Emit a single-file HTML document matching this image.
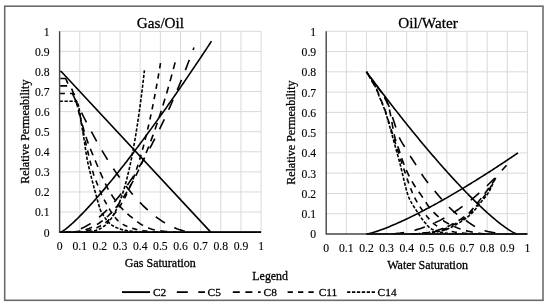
<!DOCTYPE html>
<html><head><meta charset="utf-8"><title>Relative Permeability</title>
<style>html,body{margin:0;padding:0;background:#fff;}svg{display:block;}</style></head>
<body><svg width="550" height="308" viewBox="0 0 550 308">
<rect width="550" height="308" fill="#fff"/>
<rect x="4.7" y="6.2" width="538.3" height="294.1" fill="none" stroke="#6c6c6c" stroke-width="1.6"/>
<path d="M79.75 31.30V232.10 M59.60 212.02H261.10 M99.90 31.30V232.10 M59.60 191.94H261.10 M120.05 31.30V232.10 M59.60 171.86H261.10 M140.20 31.30V232.10 M59.60 151.78H261.10 M160.35 31.30V232.10 M59.60 131.70H261.10 M180.50 31.30V232.10 M59.60 111.62H261.10 M200.65 31.30V232.10 M59.60 91.54H261.10 M220.80 31.30V232.10 M59.60 71.46H261.10 M240.95 31.30V232.10 M59.60 51.38H261.10 M261.10 31.30V232.10 M59.60 31.30H261.10" stroke="#d9d9d9" stroke-width="1" fill="none"/>
<g fill="none" stroke="#000" stroke-width="1.60" stroke-linejoin="round">
<polyline points="59.60,71.46 61.21,71.46 210.73,232.10"/>
<polyline points="59.60,78.49 65.64,78.49 66.72,80.93 67.80,83.36 68.88,85.76 69.96,88.15 71.04,90.52 72.12,92.87 73.20,95.20 74.27,97.51 75.35,99.81 76.43,102.08 77.51,104.34 78.59,106.58 79.67,108.80 80.75,111.00 81.82,113.18 82.90,115.34 83.98,117.49 85.06,119.61 86.14,121.72 87.22,123.81 88.30,125.88 89.37,127.93 90.45,129.96 91.53,131.97 92.61,133.96 93.69,135.94 94.77,137.89 95.85,139.83 96.92,141.75 98.00,143.64 99.08,145.52 100.16,147.38 101.24,149.22 102.32,151.04 103.40,152.85 104.48,154.63 105.55,156.39 106.63,158.14 107.71,159.86 108.79,161.57 109.87,163.26 110.95,164.92 112.03,166.57 113.10,168.20 114.18,169.81 115.26,171.40 116.34,172.97 117.42,174.52 118.50,176.05 119.58,177.56 120.65,179.05 121.73,180.53 122.81,181.98 123.89,183.41 124.97,184.83 126.05,186.22 127.13,187.59 128.20,188.95 129.28,190.28 130.36,191.60 131.44,192.89 132.52,194.16 133.60,195.42 134.68,196.65 135.76,197.87 136.83,199.06 137.91,200.24 138.99,201.39 140.07,202.52 141.15,203.64 142.23,204.73 143.31,205.81 144.38,206.86 145.46,207.89 146.54,208.90 147.62,209.89 148.70,210.86 149.78,211.81 150.86,212.74 151.93,213.65 153.01,214.54 154.09,215.41 155.17,216.26 156.25,217.08 157.33,217.89 158.41,218.67 159.48,219.43 160.56,220.17 161.64,220.89 162.72,221.59 163.80,222.27 164.88,222.93 165.96,223.56 167.04,224.18 168.11,224.77 169.19,225.34 170.27,225.88 171.35,226.41 172.43,226.91 173.51,227.40 174.59,227.85 175.66,228.29 176.74,228.71 177.82,229.10 178.90,229.47 179.98,229.81 181.06,230.14 182.14,230.43 183.21,230.71 184.29,230.96 185.37,231.19 186.45,231.39 187.53,231.57 188.61,231.73 189.69,231.86 190.76,231.96 191.84,232.03 192.92,232.08 194.00,232.10" stroke-dasharray="11,10.5" stroke-dashoffset="20.89"/>
<polyline points="59.60,85.92 60.33,85.92 61.07,85.92 61.80,85.92 62.54,85.92 63.27,85.92 64.00,85.92 64.74,85.92 65.47,85.92 66.20,85.92 66.94,85.92 67.67,85.92 68.41,85.92 69.14,86.03 69.87,86.58 70.61,87.43 71.34,88.40 72.07,89.72 72.81,91.51 73.54,93.61 74.28,95.84 75.01,98.04 75.74,100.30 76.48,102.70 77.21,105.23 77.94,107.87 78.68,110.58 79.41,113.36 80.15,116.17 80.88,118.99 81.61,121.80 82.35,124.57 83.08,127.28 83.81,129.91 84.55,132.43 85.28,134.82 86.02,137.06 86.75,139.18 87.48,141.24 88.22,143.24 88.95,145.19 89.68,147.09 90.42,148.95 91.15,150.77 91.89,152.56 92.62,154.33 93.35,156.08 94.09,157.82 94.82,159.55 95.55,161.27 96.29,163.00 97.02,164.74 97.76,166.49 98.49,168.23 99.22,169.96 99.96,171.66 100.69,173.34 101.42,174.99 102.16,176.61 102.89,178.24 103.63,179.88 104.36,181.50 105.09,183.11 105.83,184.67 106.56,186.18 107.29,187.63 108.03,188.99 108.76,190.27 109.50,191.49 110.23,192.69 110.96,193.87 111.70,195.02 112.43,196.14 113.16,197.25 113.90,198.32 114.63,199.37 115.37,200.40 116.10,201.40 116.83,202.38 117.57,203.33 118.30,204.26 119.03,205.17 119.77,206.05 120.50,206.91 121.24,207.75 121.97,208.56 122.70,209.35 123.44,210.11 124.17,210.84 124.91,211.55 125.64,212.24 126.37,212.91 127.11,213.56 127.84,214.19 128.57,214.81 129.31,215.42 130.04,216.01 130.78,216.60 131.51,217.19 132.24,217.77 132.98,218.34 133.71,218.93 134.44,219.51 135.18,220.09 135.91,220.66 136.65,221.23 137.38,221.78 138.11,222.32 138.85,222.85 139.58,223.35 140.31,223.83 141.05,224.29 141.78,224.72 142.52,225.12 143.25,225.49 143.98,225.85 144.72,226.22 145.45,226.57 146.18,226.92 146.92,227.26 147.65,227.59 148.39,227.91 149.12,228.21 149.85,228.50 150.59,228.77 151.32,229.03 152.05,229.26 152.79,229.47 153.52,229.66 154.26,229.83 154.99,229.97 155.72,230.09 156.46,230.21 157.19,230.33 157.92,230.45 158.66,230.56 159.39,230.67 160.13,230.78 160.86,230.88 161.59,230.98 162.33,231.08 163.06,231.18 163.79,231.27 164.53,231.36 165.26,231.44 166.00,231.52 166.73,231.59 167.46,231.67 168.20,231.73 168.93,231.79 169.66,231.85 170.40,231.90 171.13,231.95 171.87,231.99 172.60,232.02 173.33,232.05 174.07,232.07 174.80,232.09 175.53,232.10 176.27,232.10" stroke-dasharray="7,5.6" stroke-dashoffset="12.03"/>
<polyline points="59.60,93.55 60.23,93.55 60.87,93.55 61.50,93.55 62.14,93.55 62.77,93.55 63.41,93.55 64.04,93.55 64.68,93.55 65.31,93.55 65.95,93.55 66.58,93.55 67.22,93.55 67.85,93.55 68.49,93.55 69.12,93.55 69.76,93.55 70.39,93.55 71.03,93.55 71.66,93.55 72.30,93.55 72.93,93.55 73.57,93.55 74.20,94.02 74.84,95.74 75.47,98.25 76.11,101.05 76.74,103.64 77.38,106.06 78.01,108.60 78.65,111.24 79.28,113.97 79.92,116.76 80.55,119.60 81.19,122.47 81.82,125.34 82.46,128.19 83.09,131.01 83.73,133.78 84.36,136.53 85.00,139.30 85.63,142.10 86.27,144.91 86.90,147.72 87.54,150.51 88.17,153.27 88.81,155.99 89.44,158.66 90.08,161.26 90.71,163.78 91.35,166.23 91.98,168.63 92.62,170.95 93.25,173.15 93.89,175.16 94.52,176.99 95.16,178.67 95.79,180.27 96.43,181.87 97.06,183.50 97.69,185.14 98.33,186.78 98.96,188.40 99.60,189.99 100.23,191.54 100.87,193.04 101.50,194.47 102.14,195.82 102.77,197.11 103.41,198.34 104.04,199.53 104.68,200.69 105.31,201.82 105.95,202.93 106.58,204.05 107.22,205.17 107.85,206.28 108.49,207.39 109.12,208.48 109.76,209.54 110.39,210.58 111.03,211.58 111.66,212.53 112.30,213.44 112.93,214.35 113.57,215.25 114.20,216.14 114.84,217.00 115.47,217.84 116.11,218.64 116.74,219.39 117.38,220.09 118.01,220.73 118.65,221.30 119.28,221.80 119.92,222.29 120.55,222.75 121.19,223.20 121.82,223.62 122.46,224.03 123.09,224.42 123.73,224.79 124.36,225.14 125.00,225.47 125.63,225.79 126.27,226.09 126.90,226.37 127.54,226.63 128.17,226.88 128.81,227.11 129.44,227.33 130.08,227.55 130.71,227.76 131.35,227.97 131.98,228.17 132.62,228.37 133.25,228.56 133.89,228.75 134.52,228.93 135.15,229.11 135.79,229.28 136.42,229.44 137.06,229.60 137.69,229.75 138.33,229.89 138.96,230.03 139.60,230.16 140.23,230.29 140.87,230.40 141.50,230.51 142.14,230.61 142.77,230.71 143.41,230.79 144.04,230.87 144.68,230.95 145.31,231.02 145.95,231.09 146.58,231.16 147.22,231.23 147.85,231.30 148.49,231.36 149.12,231.43 149.76,231.49 150.39,231.55 151.03,231.61 151.66,231.67 152.30,231.72 152.93,231.77 153.57,231.82 154.20,231.87 154.84,231.91 155.47,231.95 156.11,231.98 156.74,232.01 157.38,232.04 158.01,232.06 158.65,232.08 159.28,232.09 159.92,232.10 160.55,232.10" stroke-dasharray="5.3,5.1"/>
<polyline points="59.60,101.18 60.13,101.18 60.67,101.18 61.20,101.18 61.73,101.18 62.27,101.18 62.80,101.18 63.33,101.18 63.87,101.18 64.40,101.18 64.94,101.18 65.47,101.18 66.00,101.18 66.54,101.18 67.07,101.18 67.60,101.18 68.14,101.18 68.67,101.18 69.20,101.18 69.74,101.18 70.27,101.18 70.80,101.18 71.34,101.18 71.87,101.18 72.40,101.18 72.94,101.18 73.47,101.18 74.01,101.18 74.54,101.18 75.07,101.18 75.61,101.18 76.14,101.18 76.67,101.21 77.21,101.79 77.74,103.05 78.27,104.90 78.81,107.25 79.34,110.01 79.87,113.09 80.41,116.41 80.94,119.88 81.47,123.40 82.01,126.90 82.54,130.27 83.08,133.44 83.61,136.54 84.14,139.90 84.68,143.43 85.21,147.04 85.74,150.62 86.28,154.08 86.81,157.30 87.34,160.20 87.88,162.79 88.41,165.19 88.94,167.46 89.48,169.69 90.01,171.92 90.54,174.13 91.08,176.29 91.61,178.41 92.15,180.50 92.68,182.56 93.21,184.61 93.75,186.63 94.28,188.64 94.81,190.61 95.35,192.56 95.88,194.47 96.41,196.35 96.95,198.24 97.48,200.20 98.01,202.19 98.55,204.14 99.08,206.00 99.61,207.73 100.15,209.26 100.68,210.55 101.22,211.60 101.75,212.59 102.28,213.55 102.82,214.47 103.35,215.35 103.88,216.21 104.42,217.03 104.95,217.82 105.48,218.57 106.02,219.30 106.55,219.99 107.08,220.64 107.62,221.27 108.15,221.86 108.68,222.42 109.22,222.95 109.75,223.44 110.29,223.91 110.82,224.34 111.35,224.74 111.89,225.11 112.42,225.45 112.95,225.76 113.49,226.06 114.02,226.35 114.55,226.62 115.09,226.89 115.62,227.16 116.15,227.41 116.69,227.66 117.22,227.89 117.75,228.12 118.29,228.34 118.82,228.55 119.36,228.75 119.89,228.94 120.42,229.12 120.96,229.30 121.49,229.46 122.02,229.62 122.56,229.76 123.09,229.90 123.62,230.03 124.16,230.15 124.69,230.26 125.22,230.35 125.76,230.44 126.29,230.52 126.82,230.60 127.36,230.68 127.89,230.75 128.43,230.82 128.96,230.90 129.49,230.97 130.03,231.04 130.56,231.11 131.09,231.17 131.63,231.24 132.16,231.30 132.69,231.36 133.23,231.42 133.76,231.48 134.29,231.54 134.83,231.59 135.36,231.64 135.89,231.69 136.43,231.74 136.96,231.78 137.50,231.82 138.03,231.86 138.56,231.90 139.10,231.93 139.63,231.96 140.16,231.99 140.70,232.02 141.23,232.04 141.76,232.06 142.30,232.07 142.83,232.08 143.36,232.09 143.90,232.10 144.43,232.10" stroke-dasharray="3.3,1.6"/>
<polyline points="60.81,232.10 62.08,231.48 63.34,230.68 64.61,229.79 65.88,228.84 67.14,227.84 68.41,226.80 69.68,225.73 70.94,224.62 72.21,223.48 73.47,222.32 74.74,221.14 76.01,219.93 77.27,218.70 78.54,217.46 79.81,216.19 81.07,214.91 82.34,213.61 83.61,212.30 84.87,210.98 86.14,209.63 87.41,208.28 88.67,206.91 89.94,205.53 91.21,204.14 92.47,202.74 93.74,201.32 95.01,199.89 96.27,198.46 97.54,197.01 98.81,195.55 100.07,194.09 101.34,192.61 102.61,191.13 103.87,189.63 105.14,188.13 106.41,186.62 107.67,185.10 108.94,183.57 110.21,182.03 111.47,180.49 112.74,178.93 114.01,177.37 115.27,175.81 116.54,174.23 117.80,172.65 119.07,171.06 120.34,169.47 121.60,167.86 122.87,166.25 124.14,164.64 125.40,163.02 126.67,161.39 127.94,159.75 129.20,158.11 130.47,156.46 131.74,154.81 133.00,153.15 134.27,151.49 135.54,149.82 136.80,148.14 138.07,146.46 139.34,144.77 140.60,143.08 141.87,141.38 143.14,139.68 144.40,137.97 145.67,136.25 146.94,134.53 148.20,132.81 149.47,131.08 150.74,129.35 152.00,127.61 153.27,125.86 154.54,124.11 155.80,122.36 157.07,120.60 158.34,118.84 159.60,117.07 160.87,115.30 162.13,113.52 163.40,111.74 164.67,109.96 165.93,108.17 167.20,106.37 168.47,104.58 169.73,102.77 171.00,100.97 172.27,99.16 173.53,97.34 174.80,95.52 176.07,93.70 177.33,91.87 178.60,90.04 179.87,88.21 181.13,86.37 182.40,84.52 183.67,82.68 184.93,80.83 186.20,78.97 187.47,77.12 188.73,75.25 190.00,73.39 191.27,71.52 192.53,69.65 193.80,67.77 195.07,65.89 196.33,64.01 197.60,62.12 198.87,60.23 200.13,58.34 201.40,56.44 202.67,54.54 203.93,52.63 205.20,50.73 206.46,48.82 207.73,46.90 209.00,44.98 210.26,43.06 211.53,41.14"/>
<polyline points="65.64,232.10 66.72,232.08 67.80,232.01 68.88,231.91 69.96,231.78 71.04,231.61 72.12,231.41 73.20,231.18 74.27,230.92 75.35,230.62 76.43,230.30 77.51,229.95 78.59,229.57 79.67,229.16 80.75,228.73 81.82,228.26 82.90,227.77 83.98,227.25 85.06,226.70 86.14,226.13 87.22,225.53 88.30,224.90 89.37,224.25 90.45,223.56 91.53,222.86 92.61,222.12 93.69,221.36 94.77,220.58 95.85,219.77 96.92,218.93 98.00,218.07 99.08,217.18 100.16,216.27 101.24,215.33 102.32,214.37 103.40,213.38 104.48,212.37 105.55,211.33 106.63,210.27 107.71,209.19 108.79,208.08 109.87,206.94 110.95,205.78 112.03,204.60 113.10,203.39 114.18,202.16 115.26,200.90 116.34,199.62 117.42,198.31 118.50,196.99 119.58,195.63 120.65,194.26 121.73,192.86 122.81,191.44 123.89,189.99 124.97,188.52 126.05,187.03 127.13,185.51 128.20,183.97 129.28,182.41 130.36,180.82 131.44,179.21 132.52,177.58 133.60,175.92 134.68,174.24 135.76,172.54 136.83,170.82 137.91,169.07 138.99,167.30 140.07,165.50 141.15,163.69 142.23,161.85 143.31,159.99 144.38,158.10 145.46,156.20 146.54,154.27 147.62,152.31 148.70,150.34 149.78,148.34 150.86,146.32 151.93,144.28 153.01,142.22 154.09,140.13 155.17,138.02 156.25,135.89 157.33,133.74 158.41,131.56 159.48,129.37 160.56,127.15 161.64,124.91 162.72,122.64 163.80,120.36 164.88,118.05 165.96,115.72 167.04,113.37 168.11,111.00 169.19,108.60 170.27,106.19 171.35,103.75 172.43,101.29 173.51,98.81 174.59,96.30 175.66,93.78 176.74,91.23 177.82,88.66 178.90,86.07 179.98,83.46 181.06,80.83 182.14,78.18 183.21,75.50 184.29,72.80 185.37,70.08 186.45,67.34 187.53,64.58 188.61,61.80 189.69,58.99 190.76,56.17 191.84,53.32 192.92,50.45 194.00,47.56" stroke-dasharray="11,10.5" stroke-dashoffset="5.74"/>
<polyline points="65.97,232.10 66.89,232.10 67.82,232.09 68.75,232.08 69.68,232.06 70.60,232.03 71.53,231.99 72.46,231.94 73.38,231.88 74.31,231.80 75.24,231.72 76.16,231.61 77.09,231.50 78.02,231.37 78.94,231.22 79.87,231.05 80.80,230.87 81.72,230.68 82.65,230.46 83.58,230.23 84.51,229.97 85.43,229.70 86.36,229.41 87.29,229.10 88.21,228.76 89.14,228.41 90.07,228.03 90.99,227.64 91.92,227.22 92.85,226.78 93.77,226.31 94.70,225.82 95.63,225.31 96.56,224.77 97.48,224.21 98.41,223.63 99.34,223.02 100.26,222.38 101.19,221.72 102.12,221.03 103.04,220.32 103.97,219.58 104.90,218.81 105.82,218.01 106.75,217.19 107.68,216.34 108.60,215.46 109.53,214.55 110.46,213.61 111.39,212.65 112.31,211.65 113.24,210.63 114.17,209.57 115.09,208.49 116.02,207.37 116.95,206.23 117.87,205.05 118.80,203.84 119.73,202.60 120.65,201.33 121.58,200.02 122.51,198.68 123.44,197.32 124.36,195.91 125.29,194.48 126.22,193.01 127.14,191.51 128.07,189.97 129.00,188.40 129.92,186.80 130.85,185.16 131.78,183.48 132.70,181.77 133.63,180.03 134.56,178.25 135.48,176.43 136.41,174.58 137.34,172.70 138.27,170.77 139.19,168.81 140.12,166.81 141.05,164.78 141.97,162.71 142.90,160.60 143.83,158.45 144.75,156.27 145.68,154.05 146.61,151.79 147.53,149.49 148.46,147.15 149.39,144.77 150.32,142.35 151.24,139.90 152.17,137.40 153.10,134.87 154.02,132.29 154.95,129.68 155.88,127.02 156.80,124.33 157.73,121.59 158.66,118.81 159.58,115.99 160.51,113.13 161.44,110.23 162.37,107.29 163.29,104.30 164.22,101.28 165.15,98.21 166.07,95.09 167.00,91.94 167.93,88.74 168.85,85.50 169.78,82.22 170.71,78.89 171.63,75.52 172.56,72.11 173.49,68.65 174.41,65.14 175.34,61.60 176.27,58.01" stroke-dasharray="7,5.6" stroke-dashoffset="5.49"/>
<polyline points="59.60,232.10 60.45,232.10 61.30,232.10 62.14,232.10 62.99,232.10 63.84,232.10 64.69,232.10 65.54,232.09 66.39,232.09 67.23,232.09 68.08,232.08 68.93,232.07 69.78,232.06 70.63,232.05 71.48,232.03 72.32,232.01 73.17,231.99 74.02,231.96 74.87,231.93 75.72,231.89 76.57,231.85 77.41,231.80 78.26,231.74 79.11,231.68 79.96,231.61 80.81,231.53 81.66,231.44 82.50,231.35 83.35,231.24 84.20,231.12 85.05,230.99 85.90,230.85 86.75,230.70 87.59,230.53 88.44,230.35 89.29,230.16 90.14,229.95 90.99,229.72 91.84,229.48 92.68,229.22 93.53,228.94 94.38,228.64 95.23,228.32 96.08,227.98 96.93,227.62 97.77,227.24 98.62,226.83 99.47,226.40 100.32,225.95 101.17,225.47 102.02,224.96 102.86,224.42 103.71,223.86 104.56,223.27 105.41,222.64 106.26,221.99 107.11,221.30 107.95,220.58 108.80,219.82 109.65,219.03 110.50,218.21 111.35,217.34 112.20,216.44 113.04,215.50 113.89,214.51 114.74,213.49 115.59,212.42 116.44,211.31 117.29,210.16 118.13,208.96 118.98,207.71 119.83,206.41 120.68,205.07 121.53,203.67 122.38,202.23 123.22,200.73 124.07,199.17 124.92,197.56 125.77,195.90 126.62,194.17 127.47,192.39 128.31,190.55 129.16,188.65 130.01,186.68 130.86,184.65 131.71,182.56 132.56,180.40 133.40,178.17 134.25,175.87 135.10,173.50 135.95,171.07 136.80,168.55 137.65,165.97 138.49,163.31 139.34,160.57 140.19,157.75 141.04,154.85 141.89,151.88 142.74,148.82 143.58,145.67 144.43,142.44 145.28,139.13 146.13,135.72 146.98,132.23 147.83,128.64 148.67,124.97 149.52,121.19 150.37,117.33 151.22,113.36 152.07,109.30 152.92,105.14 153.76,100.88 154.61,96.51 155.46,92.04 156.31,87.46 157.16,82.77 158.01,77.98 158.85,73.07 159.70,68.06 160.55,62.93" stroke-dasharray="5.3,5.1" stroke-dashoffset="4.43"/>
<polyline points="74.59,232.10 75.18,232.10 75.77,232.10 76.35,232.10 76.94,232.10 77.53,232.10 78.11,232.10 78.70,232.10 79.29,232.09 79.87,232.09 80.46,232.09 81.05,232.08 81.63,232.08 82.22,232.07 82.81,232.06 83.39,232.04 83.98,232.03 84.57,232.01 85.16,231.98 85.74,231.96 86.33,231.93 86.92,231.89 87.50,231.85 88.09,231.80 88.68,231.75 89.26,231.69 89.85,231.62 90.44,231.55 91.02,231.47 91.61,231.38 92.20,231.27 92.79,231.16 93.37,231.04 93.96,230.91 94.55,230.77 95.13,230.61 95.72,230.44 96.31,230.26 96.89,230.06 97.48,229.85 98.07,229.62 98.65,229.37 99.24,229.11 99.83,228.82 100.41,228.52 101.00,228.20 101.59,227.86 102.18,227.49 102.76,227.11 103.35,226.70 103.94,226.26 104.52,225.80 105.11,225.32 105.70,224.80 106.28,224.26 106.87,223.69 107.46,223.09 108.04,222.46 108.63,221.79 109.22,221.10 109.80,220.36 110.39,219.60 110.98,218.79 111.57,217.95 112.15,217.07 112.74,216.15 113.33,215.19 113.91,214.19 114.50,213.14 115.09,212.05 115.67,210.92 116.26,209.74 116.85,208.51 117.43,207.23 118.02,205.90 118.61,204.51 119.20,203.08 119.78,201.59 120.37,200.04 120.96,198.44 121.54,196.78 122.13,195.06 122.72,193.27 123.30,191.43 123.89,189.52 124.48,187.55 125.06,185.50 125.65,183.40 126.24,181.22 126.82,178.97 127.41,176.64 128.00,174.24 128.59,171.77 129.17,169.22 129.76,166.59 130.35,163.88 130.93,161.09 131.52,158.22 132.11,155.26 132.69,152.21 133.28,149.07 133.87,145.85 134.45,142.53 135.04,139.12 135.63,135.62 136.22,132.01 136.80,128.31 137.39,124.51 137.98,120.61 138.56,116.61 139.15,112.50 139.74,108.28 140.32,103.95 140.91,99.51 141.50,94.96 142.08,90.30 142.67,85.52 143.26,80.62 143.84,75.60 144.43,70.46" stroke-dasharray="3.3,1.6"/>
</g>
<path d="M59.60 31.30V232.10H261.10" stroke="#454545" stroke-width="1.4" fill="none"/>
<path d="M59.60 232.10H261.10" stroke="#000" stroke-width="1.60" fill="none"/>
<g font-family="'Liberation Serif','Times New Roman',serif" font-size="11.7" fill="#000" stroke="#000" stroke-width="0.12"><text x="49.60" y="236.50" text-anchor="end">0</text><text x="59.60" y="250.20" text-anchor="middle">0</text><text x="49.60" y="216.42" text-anchor="end">0.1</text><text x="79.75" y="250.20" text-anchor="middle">0.1</text><text x="49.60" y="196.34" text-anchor="end">0.2</text><text x="99.90" y="250.20" text-anchor="middle">0.2</text><text x="49.60" y="176.26" text-anchor="end">0.3</text><text x="120.05" y="250.20" text-anchor="middle">0.3</text><text x="49.60" y="156.18" text-anchor="end">0.4</text><text x="140.20" y="250.20" text-anchor="middle">0.4</text><text x="49.60" y="136.10" text-anchor="end">0.5</text><text x="160.35" y="250.20" text-anchor="middle">0.5</text><text x="49.60" y="116.02" text-anchor="end">0.6</text><text x="180.50" y="250.20" text-anchor="middle">0.6</text><text x="49.60" y="95.94" text-anchor="end">0.7</text><text x="200.65" y="250.20" text-anchor="middle">0.7</text><text x="49.60" y="75.86" text-anchor="end">0.8</text><text x="220.80" y="250.20" text-anchor="middle">0.8</text><text x="49.60" y="55.78" text-anchor="end">0.9</text><text x="240.95" y="250.20" text-anchor="middle">0.9</text><text x="49.60" y="35.70" text-anchor="end">1</text><text x="261.10" y="250.20" text-anchor="middle">1</text></g>
<text x="160.40" y="27.6" text-anchor="middle" font-family="'Liberation Serif','Times New Roman',serif" font-size="15.2" stroke="#000" stroke-width="0.28">Gas/Oil</text>
<text transform="translate(29.30 131.70) rotate(-90)" text-anchor="middle" font-family="'Liberation Serif','Times New Roman',serif" font-size="12" stroke="#000" stroke-width="0.28">Relative Permeability</text>
<text x="160.35" y="266.80" text-anchor="middle" font-family="'Liberation Serif','Times New Roman',serif" font-size="12" stroke="#000" stroke-width="0.28">Gas Saturation</text>
<path d="M346.32 31.30V234.00 M326.20 213.73H527.40 M366.44 31.30V234.00 M326.20 193.46H527.40 M386.56 31.30V234.00 M326.20 173.19H527.40 M406.68 31.30V234.00 M326.20 152.92H527.40 M426.80 31.30V234.00 M326.20 132.65H527.40 M446.92 31.30V234.00 M326.20 112.38H527.40 M467.04 31.30V234.00 M326.20 92.11H527.40 M487.16 31.30V234.00 M326.20 71.84H527.40 M507.28 31.30V234.00 M326.20 51.57H527.40 M527.40 31.30V234.00 M326.20 31.30H527.40" stroke="#d9d9d9" stroke-width="1" fill="none"/>
<g fill="none" stroke="#000" stroke-width="1.60" stroke-linejoin="round">
<polyline points="366.44,71.84 367.70,73.54 368.97,75.24 370.23,76.93 371.50,78.62 372.76,80.31 374.03,81.99 375.29,83.67 376.56,85.35 377.82,87.02 379.09,88.69 380.35,90.36 381.62,92.02 382.88,93.67 384.15,95.33 385.41,96.97 386.67,98.62 387.94,100.26 389.20,101.90 390.47,103.53 391.73,105.16 393.00,106.78 394.26,108.40 395.53,110.02 396.79,111.63 398.06,113.24 399.32,114.84 400.59,116.44 401.85,118.04 403.12,119.63 404.38,121.22 405.65,122.80 406.91,124.38 408.17,125.95 409.44,127.52 410.70,129.08 411.97,130.64 413.23,132.19 414.50,133.74 415.76,135.29 417.03,136.83 418.29,138.36 419.56,139.89 420.82,141.42 422.09,142.94 423.35,144.45 424.62,145.96 425.88,147.47 427.14,148.97 428.41,150.46 429.67,151.95 430.94,153.44 432.20,154.91 433.47,156.39 434.73,157.85 436.00,159.31 437.26,160.77 438.53,162.22 439.79,163.66 441.06,165.10 442.32,166.54 443.59,167.96 444.85,169.38 446.12,170.80 447.38,172.20 448.64,173.60 449.91,175.00 451.17,176.39 452.44,177.77 453.70,179.14 454.97,180.51 456.23,181.87 457.50,183.23 458.76,184.57 460.03,185.91 461.29,187.25 462.56,188.57 463.82,189.89 465.09,191.20 466.35,192.50 467.61,193.79 468.88,195.07 470.14,196.35 471.41,197.62 472.67,198.88 473.94,200.13 475.20,201.37 476.47,202.60 477.73,203.82 479.00,205.03 480.26,206.23 481.53,207.43 482.79,208.61 484.06,209.78 485.32,210.94 486.59,212.08 487.85,213.22 489.11,214.34 490.38,215.45 491.64,216.55 492.91,217.63 494.17,218.70 495.44,219.76 496.70,220.80 497.97,221.82 499.23,222.83 500.50,223.82 501.76,224.79 503.03,225.73 504.29,226.66 505.56,227.57 506.82,228.45 508.08,229.30 509.35,230.13 510.61,230.92 511.88,231.67 513.14,232.37 514.41,233.02 515.67,233.59 516.94,234.00"/>
<polyline points="366.44,71.84 367.33,73.07 368.21,74.29 369.10,75.52 369.98,76.75 370.87,77.98 371.75,79.20 372.64,80.43 373.53,81.66 374.41,82.88 375.30,84.10 376.18,85.28 377.07,86.45 377.96,87.61 378.84,88.79 379.73,90.00 380.61,91.24 381.50,92.54 382.38,93.90 383.27,95.31 384.16,96.76 385.04,98.27 385.93,99.85 386.81,101.54 387.70,103.35 388.58,105.31 389.47,107.57 390.36,110.16 391.24,112.95 392.13,115.83 393.01,118.67 393.90,121.39 394.79,124.19 395.67,127.05 396.56,129.89 397.44,132.61 398.33,135.10 399.21,137.26 400.10,139.12 400.99,140.80 401.87,142.34 402.76,143.80 403.64,145.22 404.53,146.67 405.41,148.17 406.30,149.65 407.19,151.12 408.07,152.58 408.96,154.01 409.84,155.43 410.73,156.84 411.62,158.21 412.50,159.56 413.39,160.91 414.27,162.27 415.16,163.66 416.04,165.07 416.93,166.49 417.82,167.92 418.70,169.36 419.59,170.78 420.47,172.19 421.36,173.59 422.24,174.95 423.13,176.29 424.02,177.58 424.90,178.82 425.79,180.03 426.67,181.21 427.56,182.36 428.45,183.50 429.33,184.61 430.22,185.71 431.10,186.79 431.99,187.86 432.87,188.92 433.76,189.97 434.65,191.01 435.53,192.05 436.42,193.08 437.30,194.12 438.19,195.15 439.07,196.19 439.96,197.22 440.85,198.24 441.73,199.26 442.62,200.28 443.50,201.28 444.39,202.26 445.27,203.23 446.16,204.19 447.05,205.13 447.93,206.04 448.82,206.93 449.70,207.80 450.59,208.65 451.48,209.49 452.36,210.30 453.25,211.10 454.13,211.87 455.02,212.62 455.90,213.35 456.79,214.06 457.68,214.74 458.56,215.40 459.45,216.04 460.33,216.67 461.22,217.29 462.10,217.90 462.99,218.50 463.88,219.10 464.76,219.69 465.65,220.29 466.53,220.90 467.42,221.52 468.31,222.15 469.19,222.78 470.08,223.40 470.96,224.01 471.85,224.60 472.73,225.16 473.62,225.70 474.51,226.20 475.39,226.65 476.28,227.10 477.16,227.54 478.05,227.97 478.93,228.40 479.82,228.81 480.71,229.20 481.59,229.58 482.48,229.94 483.36,230.27 484.25,230.58 485.14,230.85 486.02,231.10 486.91,231.31 487.79,231.50 488.68,231.68 489.56,231.85 490.45,232.03 491.34,232.20 492.22,232.37 493.11,232.53 493.99,232.69 494.88,232.84 495.76,232.98 496.65,233.12 497.54,233.25 498.42,233.37 499.31,233.48 500.19,233.58 501.08,233.68 501.97,233.76 502.85,233.83 503.74,233.89 504.62,233.94 505.51,233.97 506.39,233.99 507.28,234.00" stroke-dasharray="11,10.5" stroke-dashoffset="12.04"/>
<polyline points="366.44,71.84 367.20,72.89 367.96,73.94 368.72,75.00 369.48,76.05 370.24,77.10 371.00,78.15 371.75,79.20 372.51,80.25 373.27,81.31 374.03,82.36 374.79,83.41 375.55,84.43 376.31,85.43 377.07,86.41 377.83,87.40 378.59,88.39 379.35,89.40 380.11,90.45 380.87,91.54 381.62,92.68 382.38,93.89 383.14,95.13 383.90,96.37 384.66,97.65 385.42,98.99 386.18,100.46 386.94,102.08 387.70,103.90 388.46,105.97 389.22,108.60 389.98,112.08 390.74,116.02 391.50,120.01 392.25,124.12 393.01,128.56 393.77,132.70 394.53,135.98 395.29,138.75 396.05,141.23 396.81,143.52 397.57,145.72 398.33,147.95 399.09,150.27 399.85,152.60 400.61,154.92 401.37,157.19 402.12,159.40 402.88,161.52 403.64,163.53 404.40,165.46 405.16,167.33 405.92,169.15 406.68,170.90 407.44,172.59 408.20,174.20 408.96,175.75 409.72,177.24 410.48,178.68 411.24,180.07 411.99,181.41 412.75,182.72 413.51,183.99 414.27,185.23 415.03,186.44 415.79,187.60 416.55,188.72 417.31,189.81 418.07,190.87 418.83,191.92 419.59,192.97 420.35,194.03 421.11,195.11 421.86,196.22 422.62,197.36 423.38,198.52 424.14,199.70 424.90,200.88 425.66,202.05 426.42,203.22 427.18,204.35 427.94,205.45 428.70,206.51 429.46,207.52 430.22,208.46 430.98,209.35 431.74,210.21 432.49,211.05 433.25,211.86 434.01,212.64 434.77,213.40 435.53,214.14 436.29,214.85 437.05,215.54 437.81,216.21 438.57,216.85 439.33,217.49 440.09,218.11 440.85,218.72 441.61,219.31 442.36,219.89 443.12,220.44 443.88,220.98 444.64,221.49 445.40,221.97 446.16,222.43 446.92,222.85 447.68,223.26 448.44,223.66 449.20,224.05 449.96,224.44 450.72,224.82 451.48,225.20 452.23,225.57 452.99,225.93 453.75,226.29 454.51,226.63 455.27,226.97 456.03,227.30 456.79,227.62 457.55,227.94 458.31,228.24 459.07,228.54 459.83,228.82 460.59,229.09 461.35,229.36 462.10,229.61 462.86,229.85 463.62,230.08 464.38,230.30 465.14,230.50 465.90,230.69 466.66,230.87 467.42,231.04 468.18,231.21 468.94,231.37 469.70,231.54 470.46,231.70 471.22,231.86 471.98,232.01 472.73,232.17 473.49,232.32 474.25,232.46 475.01,232.60 475.77,232.74 476.53,232.87 477.29,233.00 478.05,233.12 478.81,233.24 479.57,233.35 480.33,233.45 481.09,233.54 481.85,233.63 482.60,233.71 483.36,233.78 484.12,233.84 484.88,233.90 485.64,233.94 486.40,233.98 487.16,234.00" stroke-dasharray="7,5.6" stroke-dashoffset="5.97"/>
<polyline points="366.44,71.84 367.14,72.99 367.83,74.15 368.53,75.32 369.22,76.49 369.92,77.67 370.62,78.85 371.31,80.02 372.01,81.17 372.70,82.31 373.40,83.46 374.10,84.63 374.79,85.84 375.49,87.10 376.18,88.44 376.88,89.87 377.58,91.43 378.27,93.10 378.97,94.81 379.66,96.52 380.36,98.21 381.06,99.91 381.75,101.62 382.45,103.36 383.14,105.14 383.84,106.96 384.54,108.84 385.23,110.78 385.93,112.84 386.62,115.00 387.32,117.23 388.02,119.49 388.71,121.76 389.41,124.00 390.10,126.20 390.80,128.39 391.50,130.58 392.19,132.77 392.89,134.96 393.58,137.16 394.28,139.37 394.97,141.60 395.67,143.83 396.37,146.06 397.06,148.28 397.76,150.49 398.45,152.69 399.15,154.87 399.85,157.03 400.54,159.16 401.24,161.25 401.93,163.30 402.63,165.35 403.33,167.41 404.02,169.48 404.72,171.56 405.41,173.63 406.11,175.69 406.81,177.74 407.50,179.76 408.20,181.75 408.89,183.71 409.59,185.62 410.29,187.48 410.98,189.29 411.68,191.04 412.37,192.72 413.07,194.32 413.77,195.85 414.46,197.28 415.16,198.64 415.85,199.95 416.55,201.19 417.25,202.39 417.94,203.54 418.64,204.65 419.33,205.74 420.03,206.79 420.73,207.83 421.42,208.85 422.12,209.87 422.81,210.87 423.51,211.85 424.21,212.82 424.90,213.76 425.60,214.68 426.29,215.58 426.99,216.45 427.69,217.28 428.38,218.09 429.08,218.85 429.77,219.60 430.47,220.34 431.17,221.08 431.86,221.80 432.56,222.51 433.25,223.18 433.95,223.82 434.65,224.41 435.34,224.94 436.04,225.42 436.73,225.83 437.43,226.18 438.13,226.52 438.82,226.86 439.52,227.19 440.21,227.50 440.91,227.81 441.61,228.11 442.30,228.40 443.00,228.68 443.69,228.95 444.39,229.22 445.09,229.47 445.78,229.72 446.48,229.95 447.17,230.18 447.87,230.39 448.57,230.60 449.26,230.80 449.96,230.99 450.65,231.17 451.35,231.34 452.04,231.50 452.74,231.66 453.44,231.80 454.13,231.93 454.83,232.06 455.52,232.17 456.22,232.27 456.92,232.37 457.61,232.46 458.31,232.55 459.00,232.64 459.70,232.72 460.40,232.81 461.09,232.89 461.79,232.97 462.48,233.05 463.18,233.13 463.88,233.20 464.57,233.28 465.27,233.35 465.96,233.41 466.66,233.48 467.36,233.54 468.05,233.60 468.75,233.66 469.44,233.71 470.14,233.76 470.84,233.80 471.53,233.84 472.23,233.88 472.92,233.91 473.62,233.94 474.32,233.96 475.01,233.98 475.71,233.99 476.40,234.00 477.10,234.00" stroke-dasharray="5.3,5.1"/>
<polyline points="366.44,71.84 367.01,72.78 367.58,73.73 368.15,74.68 368.72,75.64 369.29,76.60 369.86,77.56 370.43,78.53 371.00,79.49 371.56,80.43 372.13,81.34 372.70,82.24 373.27,83.16 373.84,84.09 374.41,85.05 374.98,86.06 375.55,87.12 376.12,88.26 376.69,89.50 377.26,90.94 377.83,92.54 378.40,94.18 378.97,95.77 379.54,97.24 380.11,98.65 380.68,100.01 381.25,101.34 381.81,102.67 382.38,104.00 382.95,105.36 383.52,106.76 384.09,108.22 384.66,109.75 385.23,111.37 385.80,113.10 386.37,114.92 386.94,116.81 387.51,118.75 388.08,120.72 388.65,122.71 389.22,124.69 389.79,126.69 390.36,128.73 390.93,130.80 391.50,132.87 392.06,134.94 392.63,136.99 393.20,139.03 393.77,141.07 394.34,143.11 394.91,145.15 395.48,147.19 396.05,149.24 396.62,151.29 397.19,153.34 397.76,155.41 398.33,157.49 398.90,159.57 399.47,161.67 400.04,163.80 400.61,166.01 401.18,168.32 401.74,170.70 402.31,173.13 402.88,175.58 403.45,178.04 404.02,180.49 404.59,182.89 405.16,185.23 405.73,187.49 406.30,189.64 406.87,191.66 407.44,193.53 408.01,195.23 408.58,196.73 409.15,198.06 409.72,199.31 410.29,200.48 410.86,201.59 411.43,202.63 411.99,203.63 412.56,204.58 413.13,205.50 413.70,206.39 414.27,207.26 414.84,208.12 415.41,208.97 415.98,209.83 416.55,210.69 417.12,211.58 417.69,212.46 418.26,213.35 418.83,214.22 419.40,215.09 419.97,215.95 420.54,216.79 421.11,217.62 421.68,218.43 422.24,219.22 422.81,219.99 423.38,220.73 423.95,221.45 424.52,222.14 425.09,222.80 425.66,223.45 426.23,224.11 426.80,224.75 427.37,225.38 427.94,225.99 428.51,226.57 429.08,227.12 429.65,227.63 430.22,228.10 430.79,228.52 431.36,228.89 431.92,229.22 432.49,229.53 433.06,229.83 433.63,230.12 434.20,230.40 434.77,230.65 435.34,230.89 435.91,231.12 436.48,231.33 437.05,231.51 437.62,231.68 438.19,231.83 438.76,231.95 439.33,232.06 439.90,232.17 440.47,232.27 441.04,232.37 441.61,232.47 442.17,232.57 442.74,232.67 443.31,232.76 443.88,232.85 444.45,232.94 445.02,233.03 445.59,233.11 446.16,233.19 446.73,233.27 447.30,233.34 447.87,233.41 448.44,233.48 449.01,233.54 449.58,233.60 450.15,233.66 450.72,233.71 451.29,233.76 451.86,233.80 452.42,233.84 452.99,233.88 453.56,233.91 454.13,233.94 454.70,233.96 455.27,233.98 455.84,233.99 456.41,234.00 456.98,234.00" stroke-dasharray="3.3,1.6"/>
<polyline points="366.44,234.00 367.71,233.81 368.99,233.55 370.26,233.24 371.53,232.91 372.81,232.55 374.08,232.18 375.35,231.78 376.63,231.37 377.90,230.95 379.17,230.51 380.44,230.06 381.72,229.60 382.99,229.13 384.26,228.65 385.54,228.16 386.81,227.66 388.08,227.15 389.36,226.64 390.63,226.11 391.90,225.58 393.18,225.04 394.45,224.50 395.72,223.95 397.00,223.39 398.27,222.82 399.54,222.25 400.81,221.67 402.09,221.09 403.36,220.50 404.63,219.91 405.91,219.31 407.18,218.71 408.45,218.10 409.73,217.48 411.00,216.86 412.27,216.24 413.55,215.61 414.82,214.98 416.09,214.34 417.37,213.70 418.64,213.05 419.91,212.40 421.18,211.74 422.46,211.08 423.73,210.42 425.00,209.75 426.28,209.08 427.55,208.41 428.82,207.73 430.10,207.04 431.37,206.36 432.64,205.67 433.92,204.97 435.19,204.28 436.46,203.58 437.74,202.87 439.01,202.16 440.28,201.45 441.56,200.74 442.83,200.02 444.10,199.30 445.37,198.58 446.65,197.85 447.92,197.12 449.19,196.38 450.47,195.65 451.74,194.91 453.01,194.17 454.29,193.42 455.56,192.67 456.83,191.92 458.11,191.17 459.38,190.41 460.65,189.65 461.93,188.89 463.20,188.12 464.47,187.35 465.74,186.58 467.02,185.81 468.29,185.03 469.56,184.26 470.84,183.47 472.11,182.69 473.38,181.90 474.66,181.12 475.93,180.32 477.20,179.53 478.48,178.73 479.75,177.93 481.02,177.13 482.30,176.33 483.57,175.52 484.84,174.72 486.12,173.90 487.39,173.09 488.66,172.28 489.93,171.46 491.21,170.64 492.48,169.82 493.75,168.99 495.03,168.16 496.30,167.34 497.57,166.50 498.85,165.67 500.12,164.84 501.39,164.00 502.67,163.16 503.94,162.32 505.21,161.47 506.49,160.63 507.76,159.78 509.03,158.93 510.30,158.08 511.58,157.22 512.85,156.37 514.12,155.51 515.40,154.65 516.67,153.78 517.94,152.92"/>
<polyline points="386.56,234.00 387.57,234.00 388.58,233.98 389.58,233.96 390.59,233.92 391.60,233.88 392.61,233.83 393.61,233.76 394.62,233.69 395.63,233.61 396.64,233.51 397.64,233.41 398.65,233.30 399.66,233.18 400.67,233.05 401.68,232.91 402.68,232.76 403.69,232.60 404.70,232.43 405.71,232.25 406.71,232.06 407.72,231.86 408.73,231.65 409.74,231.43 410.74,231.20 411.75,230.97 412.76,230.72 413.77,230.46 414.78,230.20 415.78,229.92 416.79,229.63 417.80,229.34 418.81,229.03 419.81,228.72 420.82,228.39 421.83,228.06 422.84,227.71 423.84,227.36 424.85,226.99 425.86,226.62 426.87,226.24 427.88,225.84 428.88,225.44 429.89,225.03 430.90,224.61 431.91,224.17 432.91,223.73 433.92,223.28 434.93,222.82 435.94,222.35 436.94,221.87 437.95,221.38 438.96,220.88 439.97,220.37 440.98,219.85 441.98,219.32 442.99,218.78 444.00,218.23 445.01,217.68 446.01,217.11 447.02,216.53 448.03,215.94 449.04,215.35 450.04,214.74 451.05,214.12 452.06,213.50 453.07,212.86 454.08,212.22 455.08,211.56 456.09,210.90 457.10,210.22 458.11,209.54 459.11,208.84 460.12,208.14 461.13,207.43 462.14,206.71 463.14,205.97 464.15,205.23 465.16,204.48 466.17,203.72 467.18,202.94 468.18,202.16 469.19,201.37 470.20,200.57 471.21,199.76 472.21,198.94 473.22,198.11 474.23,197.27 475.24,196.42 476.24,195.56 477.25,194.70 478.26,193.82 479.27,192.93 480.28,192.03 481.28,191.12 482.29,190.21 483.30,189.28 484.31,188.34 485.31,187.40 486.32,186.44 487.33,185.48 488.34,184.50 489.34,183.52 490.35,182.52 491.36,181.52 492.37,180.50 493.38,179.48 494.38,178.44 495.39,177.40 496.40,176.35 497.41,175.29 498.41,174.21 499.42,173.13 500.43,172.04 501.44,170.94 502.44,169.83 503.45,168.71 504.46,167.58 505.47,166.43 506.48,165.28" stroke-dasharray="11,10.5" stroke-dashoffset="14.83"/>
<polyline points="410.70,234.00 411.24,234.00 411.77,233.99 412.31,233.98 412.85,233.97 413.38,233.95 413.92,233.93 414.45,233.91 414.99,233.89 415.52,233.86 416.06,233.83 416.59,233.79 417.13,233.76 417.66,233.72 418.20,233.67 418.73,233.63 419.27,233.59 419.80,233.54 420.34,233.49 420.87,233.44 421.41,233.38 421.94,233.33 422.48,233.27 423.02,233.22 423.55,233.16 424.09,233.10 424.62,233.04 425.16,232.98 425.69,232.91 426.23,232.85 426.76,232.79 427.30,232.72 427.83,232.65 428.37,232.56 428.90,232.48 429.44,232.38 429.97,232.28 430.51,232.17 431.04,232.05 431.58,231.93 432.11,231.80 432.65,231.67 433.19,231.53 433.72,231.39 434.26,231.24 434.79,231.09 435.33,230.93 435.86,230.77 436.40,230.61 436.93,230.44 437.47,230.27 438.00,230.10 438.54,229.93 439.07,229.75 439.61,229.57 440.14,229.39 440.68,229.21 441.21,229.03 441.75,228.85 442.28,228.66 442.82,228.47 443.36,228.28 443.89,228.07 444.43,227.86 444.96,227.64 445.50,227.42 446.03,227.19 446.57,226.95 447.10,226.71 447.64,226.46 448.17,226.21 448.71,225.95 449.24,225.69 449.78,225.42 450.31,225.15 450.85,224.88 451.38,224.60 451.92,224.32 452.45,224.03 452.99,223.74 453.53,223.45 454.06,223.15 454.60,222.86 455.13,222.56 455.67,222.25 456.20,221.95 456.74,221.64 457.27,221.32 457.81,221.00 458.34,220.68 458.88,220.35 459.41,220.02 459.95,219.68 460.48,219.33 461.02,218.98 461.55,218.62 462.09,218.26 462.62,217.89 463.16,217.51 463.70,217.12 464.23,216.73 464.77,216.33 465.30,215.92 465.84,215.50 466.37,215.07 466.91,214.64 467.44,214.19 467.98,213.73 468.51,213.27 469.05,212.78 469.58,212.27 470.12,211.74 470.65,211.18 471.19,210.60 471.72,210.01 472.26,209.39 472.80,208.77 473.33,208.13 473.87,207.48 474.40,206.82 474.94,206.15 475.47,205.47 476.01,204.79 476.54,204.11 477.08,203.43 477.61,202.74 478.15,202.06 478.68,201.39 479.22,200.72 479.75,200.06 480.29,199.39 480.82,198.72 481.36,198.04 481.89,197.36 482.43,196.68 482.97,195.99 483.50,195.29 484.04,194.59 484.57,193.89 485.11,193.18 485.64,192.47 486.18,191.75 486.71,191.03 487.25,190.30 487.78,189.57 488.32,188.83 488.85,188.09 489.39,187.35 489.92,186.60 490.46,185.85 490.99,185.09 491.53,184.32 492.06,183.56 492.60,182.78 493.14,182.01 493.67,181.23 494.21,180.44 494.74,179.65 495.28,178.85 495.81,178.05" stroke-dasharray="7,5.6"/>
<polyline points="411.51,234.00 412.03,234.00 412.56,233.99 413.08,233.98 413.60,233.96 414.13,233.94 414.65,233.92 415.18,233.90 415.70,233.87 416.22,233.84 416.75,233.81 417.27,233.78 417.80,233.74 418.32,233.70 418.84,233.66 419.37,233.62 419.89,233.58 420.41,233.53 420.94,233.48 421.46,233.43 421.99,233.38 422.51,233.33 423.03,233.28 423.56,233.23 424.08,233.17 424.61,233.11 425.13,233.06 425.65,233.00 426.18,232.94 426.70,232.88 427.23,232.83 427.75,232.77 428.27,232.71 428.80,232.64 429.32,232.57 429.84,232.50 430.37,232.42 430.89,232.34 431.42,232.25 431.94,232.16 432.46,232.07 432.99,231.97 433.51,231.87 434.04,231.77 434.56,231.66 435.08,231.55 435.61,231.44 436.13,231.32 436.66,231.20 437.18,231.08 437.70,230.95 438.23,230.82 438.75,230.69 439.27,230.55 439.80,230.41 440.32,230.27 440.85,230.13 441.37,229.98 441.89,229.83 442.42,229.68 442.94,229.53 443.47,229.37 443.99,229.19 444.51,229.01 445.04,228.82 445.56,228.62 446.08,228.41 446.61,228.19 447.13,227.96 447.66,227.72 448.18,227.48 448.70,227.23 449.23,226.98 449.75,226.72 450.28,226.45 450.80,226.18 451.32,225.91 451.85,225.63 452.37,225.34 452.90,225.06 453.42,224.77 453.94,224.48 454.47,224.19 454.99,223.90 455.51,223.60 456.04,223.31 456.56,223.01 457.09,222.71 457.61,222.41 458.13,222.10 458.66,221.79 459.18,221.47 459.71,221.15 460.23,220.82 460.75,220.49 461.28,220.15 461.80,219.81 462.33,219.46 462.85,219.10 463.37,218.74 463.90,218.37 464.42,217.99 464.94,217.61 465.47,217.22 465.99,216.82 466.52,216.41 467.04,215.99 467.56,215.57 468.09,215.13 468.61,214.69 469.14,214.24 469.66,213.77 470.18,213.28 470.71,212.76 471.23,212.23 471.75,211.67 472.28,211.10 472.80,210.51 473.33,209.90 473.85,209.28 474.37,208.65 474.90,208.01 475.42,207.36 475.95,206.70 476.47,206.04 476.99,205.37 477.52,204.70 478.04,204.03 478.57,203.37 479.09,202.70 479.61,202.04 480.14,201.39 480.66,200.74 481.18,200.10 481.71,199.45 482.23,198.81 482.76,198.16 483.28,197.51 483.80,196.85 484.33,196.18 484.85,195.51 485.38,194.83 485.90,194.13 486.42,193.42 486.95,192.69 487.47,191.95 488.00,191.19 488.52,190.40 489.04,189.60 489.57,188.78 490.09,187.94 490.61,187.09 491.14,186.21 491.66,185.32 492.19,184.42 492.71,183.50 493.23,182.56 493.76,181.61 494.28,180.65 494.81,179.68" stroke-dasharray="5.3,5.1"/>
<polyline points="412.31,234.00 412.82,233.98 413.34,233.96 413.85,233.94 414.36,233.92 414.87,233.89 415.38,233.87 415.89,233.84 416.40,233.81 416.91,233.78 417.43,233.75 417.94,233.71 418.45,233.68 418.96,233.64 419.47,233.60 419.98,233.56 420.49,233.52 421.00,233.48 421.52,233.44 422.03,233.39 422.54,233.35 423.05,233.30 423.56,233.26 424.07,233.21 424.58,233.16 425.09,233.11 425.61,233.06 426.12,233.01 426.63,232.96 427.14,232.91 427.65,232.86 428.16,232.81 428.67,232.76 429.18,232.70 429.70,232.65 430.21,232.59 430.72,232.53 431.23,232.48 431.74,232.42 432.25,232.35 432.76,232.29 433.27,232.22 433.79,232.16 434.30,232.09 434.81,232.02 435.32,231.94 435.83,231.87 436.34,231.79 436.85,231.71 437.36,231.62 437.87,231.54 438.39,231.45 438.90,231.36 439.41,231.27 439.92,231.17 440.43,231.07 440.94,230.97 441.45,230.86 441.96,230.75 442.48,230.64 442.99,230.52 443.50,230.40 444.01,230.27 444.52,230.13 445.03,229.98 445.54,229.81 446.05,229.63 446.57,229.44 447.08,229.24 447.59,229.03 448.10,228.80 448.61,228.57 449.12,228.33 449.63,228.08 450.14,227.82 450.66,227.56 451.17,227.29 451.68,227.02 452.19,226.74 452.70,226.46 453.21,226.17 453.72,225.88 454.23,225.60 454.75,225.31 455.26,225.02 455.77,224.73 456.28,224.44 456.79,224.15 457.30,223.86 457.81,223.57 458.32,223.27 458.84,222.97 459.35,222.67 459.86,222.36 460.37,222.05 460.88,221.73 461.39,221.41 461.90,221.08 462.41,220.75 462.92,220.41 463.44,220.06 463.95,219.71 464.46,219.35 464.97,218.99 465.48,218.62 465.99,218.24 466.50,217.85 467.01,217.46 467.53,217.06 468.04,216.65 468.55,216.23 469.06,215.80 469.57,215.37 470.08,214.93 470.59,214.46 471.10,213.98 471.62,213.47 472.13,212.94 472.64,212.40 473.15,211.84 473.66,211.26 474.17,210.66 474.68,210.06 475.19,209.44 475.71,208.82 476.22,208.18 476.73,207.54 477.24,206.89 477.75,206.24 478.26,205.59 478.77,204.94 479.28,204.29 479.80,203.64 480.31,202.99 480.82,202.35 481.33,201.72 481.84,201.10 482.35,200.49 482.86,199.89 483.37,199.28 483.89,198.68 484.40,198.07 484.91,197.45 485.42,196.81 485.93,196.16 486.44,195.49 486.95,194.79 487.46,194.06 487.97,193.30 488.49,192.50 489.00,191.66 489.51,190.75 490.02,189.78 490.53,188.75 491.04,187.67 491.55,186.55 492.06,185.38 492.58,184.18 493.09,182.95 493.60,181.70" stroke-dasharray="3.3,1.6"/>
</g>
<path d="M326.20 31.30V234.00H527.40" stroke="#454545" stroke-width="1.4" fill="none"/>
<path d="M366.44 234.00H527.40" stroke="#000" stroke-width="1.60" fill="none"/>
<g font-family="'Liberation Serif','Times New Roman',serif" font-size="11.7" fill="#000" stroke="#000" stroke-width="0.12"><text x="316.20" y="238.40" text-anchor="end">0</text><text x="326.20" y="252.00" text-anchor="middle">0</text><text x="316.20" y="218.13" text-anchor="end">0.1</text><text x="346.32" y="252.00" text-anchor="middle">0.1</text><text x="316.20" y="197.86" text-anchor="end">0.2</text><text x="366.44" y="252.00" text-anchor="middle">0.2</text><text x="316.20" y="177.59" text-anchor="end">0.3</text><text x="386.56" y="252.00" text-anchor="middle">0.3</text><text x="316.20" y="157.32" text-anchor="end">0.4</text><text x="406.68" y="252.00" text-anchor="middle">0.4</text><text x="316.20" y="137.05" text-anchor="end">0.5</text><text x="426.80" y="252.00" text-anchor="middle">0.5</text><text x="316.20" y="116.78" text-anchor="end">0.6</text><text x="446.92" y="252.00" text-anchor="middle">0.6</text><text x="316.20" y="96.51" text-anchor="end">0.7</text><text x="467.04" y="252.00" text-anchor="middle">0.7</text><text x="316.20" y="76.24" text-anchor="end">0.8</text><text x="487.16" y="252.00" text-anchor="middle">0.8</text><text x="316.20" y="55.97" text-anchor="end">0.9</text><text x="507.28" y="252.00" text-anchor="middle">0.9</text><text x="316.20" y="35.70" text-anchor="end">1</text><text x="527.40" y="252.00" text-anchor="middle">1</text></g>
<text x="428.00" y="27.6" text-anchor="middle" font-family="'Liberation Serif','Times New Roman',serif" font-size="15.2" stroke="#000" stroke-width="0.28">Oil/Water</text>
<text transform="translate(295.00 132.65) rotate(-90)" text-anchor="middle" font-family="'Liberation Serif','Times New Roman',serif" font-size="12" stroke="#000" stroke-width="0.28">Relative Permeability</text>
<text x="427.60" y="269.20" text-anchor="middle" font-family="'Liberation Serif','Times New Roman',serif" font-size="12" stroke="#000" stroke-width="0.28">Water Saturation</text>
<text x="270.2" y="279.6" text-anchor="middle" font-family="'Liberation Serif','Times New Roman',serif" font-size="11.9" stroke="#000" stroke-width="0.28">Legend</text>
<path d="M122 292.1H150" stroke="#000" stroke-width="1.9"/>
<text x="153" y="296.2" font-family="'Liberation Serif','Times New Roman',serif" font-size="11.4" stroke="#000" stroke-width="0.28">C2</text>
<path d="M176.8 292.1H205" stroke="#000" stroke-width="1.9" stroke-dasharray="11,10.5"/>
<text x="207.6" y="296.2" font-family="'Liberation Serif','Times New Roman',serif" font-size="11.4" stroke="#000" stroke-width="0.28">C5</text>
<path d="M232.8 292.1H260.7" stroke="#000" stroke-width="1.9" stroke-dasharray="7,5.6"/>
<text x="263.6" y="296.2" font-family="'Liberation Serif','Times New Roman',serif" font-size="11.4" stroke="#000" stroke-width="0.28">C8</text>
<path d="M287.6 292.1H315" stroke="#000" stroke-width="1.9" stroke-dasharray="5.3,5.1"/>
<text x="318.7" y="296.2" font-family="'Liberation Serif','Times New Roman',serif" font-size="11.4" stroke="#000" stroke-width="0.28">C11</text>
<path d="M347.1 292.1H375.4" stroke="#000" stroke-width="1.9" stroke-dasharray="3.3,1.6"/>
<text x="377.6" y="296.2" font-family="'Liberation Serif','Times New Roman',serif" font-size="11.4" stroke="#000" stroke-width="0.28">C14</text>
</svg></body></html>
